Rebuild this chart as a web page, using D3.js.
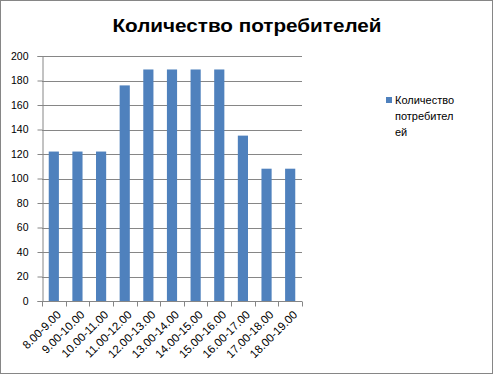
<!DOCTYPE html>
<html>
<head>
<meta charset="utf-8">
<script src="https://cdn.jsdelivr.net/npm/d3@7"></script>
<style>
  body { margin: 0; background: #fff; }
  svg { display: block; }
  text { font-family: "Liberation Sans", Arial, sans-serif; fill: #000; }
</style>
</head>
<body>
<div id="chart"></div>
<script>
const categories = ["8.00-9.00", "9.00-10.00", "10.00-11.00", "11.00-12.00", "12.00-13.00",
  "13.00-14.00", "14.00-15.00", "15.00-16.00", "16.00-17.00", "17.00-18.00", "18.00-19.00"];
const values = [122, 122, 122, 176, 189, 189, 189, 189, 135, 108, 108];
const yTicks = [0, 20, 40, 60, 80, 100, 120, 140, 160, 180, 200];
const seriesName = "Количество потребителей";
const legendLines = ["Количество", "потребител", "ей"];

const W = 495, H = 377;
const plot = { left: 42, right: 302, top: 56, bottom: 301 };

const svg = d3.select("#chart").append("svg")
  .attr("width", W)
  .attr("height", H);

// outer frame
svg.append("rect")
  .attr("x", 0.5).attr("y", 0.5)
  .attr("width", 492).attr("height", 373)
  .attr("fill", "#fff")
  .attr("stroke", "#868686");

const x = d3.scaleBand()
  .domain(categories)
  .range([plot.left, plot.right])
  .paddingInner(0.57)
  .paddingOuter(0.285);

const xTick = d3.scaleBand()
  .domain(categories)
  .range([plot.left, plot.right]);

const y = d3.scaleLinear()
  .domain([0, 200])
  .range([plot.bottom, plot.top]);

// gridlines
svg.append("g")
  .selectAll("line")
  .data(yTicks.filter(d => d > 0))
  .join("line")
  .attr("x1", plot.left).attr("x2", plot.right)
  .attr("y1", d => Math.round(y(d)) + 0.5).attr("y2", d => Math.round(y(d)) + 0.5)
  .attr("stroke", "#868686");

// bars
svg.append("g")
  .selectAll("rect")
  .data(values)
  .join("rect")
  .attr("x", (d, i) => x(categories[i]))
  .attr("width", x.bandwidth())
  .attr("y", d => y(d))
  .attr("height", d => y(0) - y(d))
  .attr("fill", "#4F81BD");

// y axis
const yAxis = svg.append("g")
  .attr("transform", `translate(${plot.left + 0.5},0)`)
  .call(d3.axisLeft(y).tickValues(yTicks).tickSize(5).tickPadding(9));
yAxis.select(".domain").attr("stroke", "#868686");
yAxis.selectAll(".tick line").attr("stroke", "#868686");
yAxis.selectAll(".tick text").style("font-size", "10.5px").attr("fill", "#000");

// x axis
const xAxis = svg.append("g")
  .attr("transform", `translate(0,${plot.bottom + 0.5})`);
xAxis.append("line")
  .attr("x1", plot.left).attr("x2", plot.right)
  .attr("stroke", "#868686");
xAxis.selectAll("line.tk")
  .data(categories.concat(["end"]))
  .join("line")
  .attr("class", "tk")
  .attr("x1", (d, i) => Math.round(plot.left + i * xTick.bandwidth()) + 0.5)
  .attr("x2", (d, i) => Math.round(plot.left + i * xTick.bandwidth()) + 0.5)
  .attr("y1", 0).attr("y2", 5)
  .attr("stroke", "#868686");
xAxis.selectAll("text")
  .data(categories)
  .join("text")
  .attr("text-anchor", "end")
  .attr("transform", d => `translate(${xTick(d) + xTick.bandwidth() / 2 + 5},${11}) rotate(-45)`)
  .attr("dy", "0.35em")
  .style("font-size", "11.5px")
  .text(d => d);

// title
const title = svg.append("text")
  .attr("x", 247)
  .attr("y", 32)
  .attr("text-anchor", "middle")
  .style("font-size", "18px")
  .style("font-weight", "bold")
  .text(seriesName);
const tw = title.node().getComputedTextLength();
if (tw > 0) title.attr("textLength", 269).attr("lengthAdjust", "spacingAndGlyphs");

// legend
const legend = svg.append("g");
legend.append("rect")
  .attr("x", 386).attr("y", 97)
  .attr("width", 6).attr("height", 6)
  .attr("fill", "#4F81BD");
legend.selectAll("text")
  .data(legendLines)
  .join("text")
  .attr("x", 395)
  .attr("y", (d, i) => 104 + i * 16)
  .style("font-size", "11px")
  .text(d => d);
</script>
</body>
</html>
